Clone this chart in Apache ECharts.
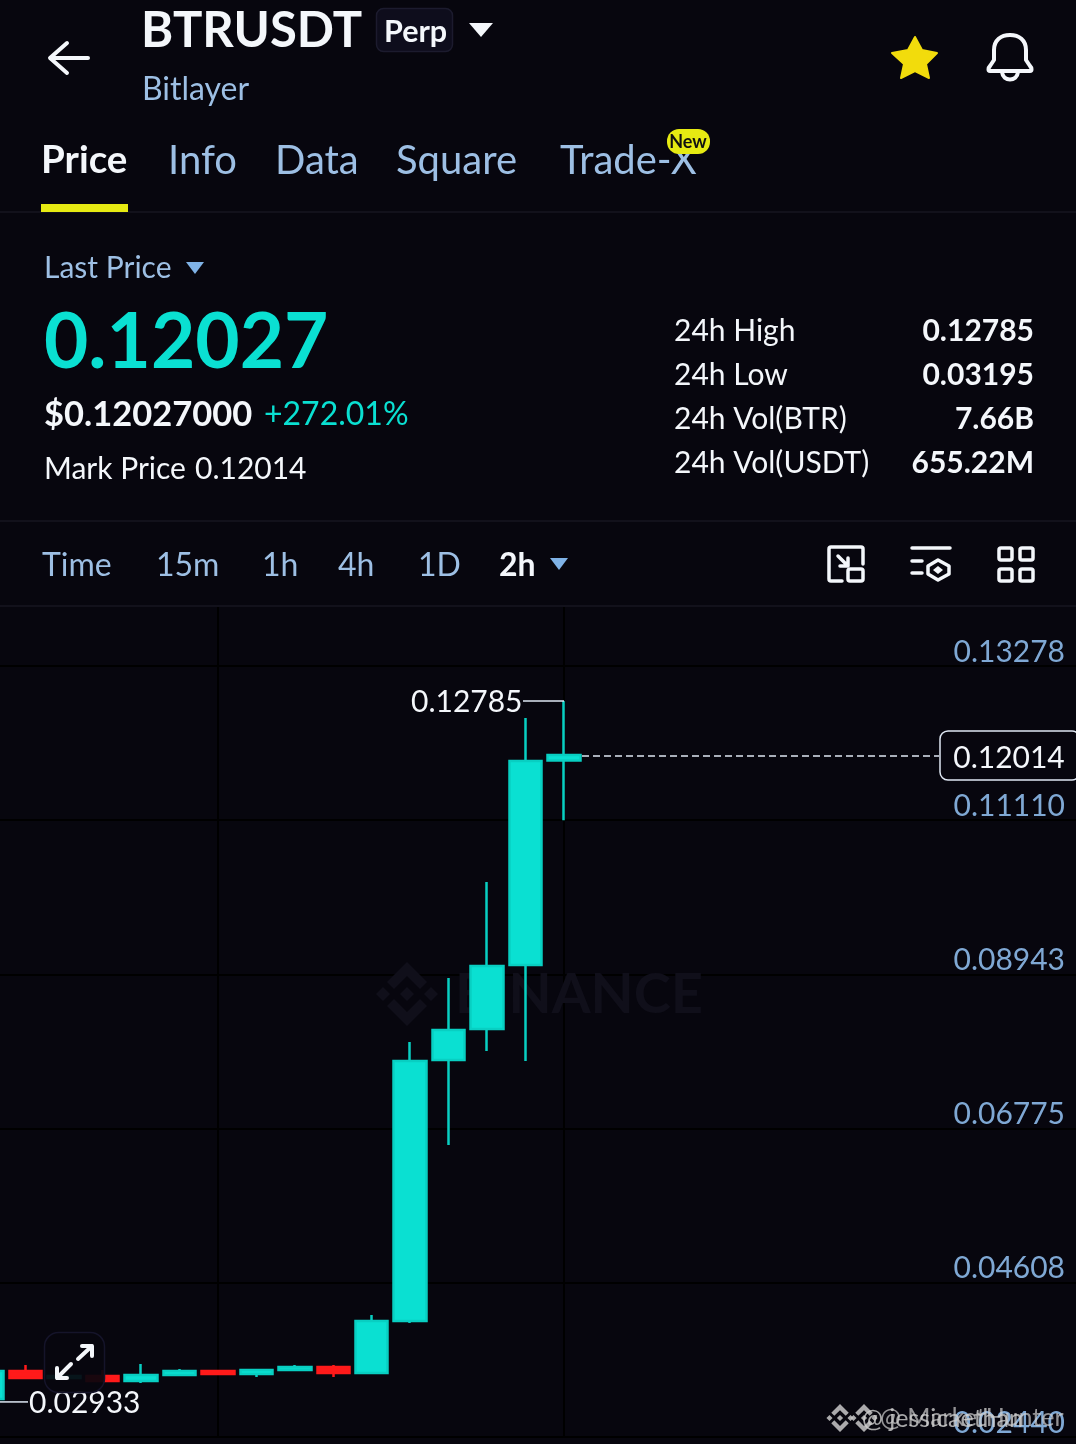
<!DOCTYPE html>
<html><head><meta charset="utf-8">
<style>html,body{margin:0;padding:0;background:#07060e}#c{width:1076px;height:1444px}</style>
<script src="https://cdn.jsdelivr.net/npm/echarts@6/dist/echarts.min.js"></script>
</head><body><div id="c"></div>
<script>
var candleSlots = ['T-15','T-14','T-13','T-12','T-11','T-10','T-9','T-8','T-7','T-6','T-5','T-4','T-3','T-2','T-1','T0'];
var futureSlots = ['F1','F2','F3','F4','F5','F6','F7','F8','F9','F10','F11','F12','F13'];
var opens  = [0.02974,0.03368,0.03270,0.03298,0.03228,0.03312,0.03368,0.03326,0.03382,0.03424,0.03340,0.04071,0.07740,0.08175,0.09075,0.11950];
var closes = [0.03368,0.03270,0.03298,0.03228,0.03312,0.03368,0.03326,0.03382,0.03424,0.03340,0.04071,0.07725,0.08161,0.09061,0.11943,0.12027];
var lows   = [0.02933,0.03256,0.03250,0.03213,0.03199,0.03298,0.03312,0.03284,0.03368,0.03284,0.03326,0.04043,0.06545,0.07866,0.07725,0.11110];
var highs  = [0.03400,0.03452,0.03310,0.03382,0.03466,0.03396,0.03382,0.03396,0.03452,0.03452,0.04155,0.07993,0.08892,0.10242,0.12547,0.12785];
var yTicks = [0.02440,0.04608,0.06775,0.08943,0.11110,0.13278];
var yMin = 0.02440, yMax = 0.14107;
var markPrice = 0.12014, dayHigh = 0.12785, dayLow = 0.02933;
var gridMarks = ['T-9','T0'];
var tabs = ['Price','Info','Data','Square','Trade-X'];
var intervals = ['Time','15m','1h','4h','1D','2h'];
var statNames = ['24h High','24h Low','24h Vol(BTR)','24h Vol(USDT)'];
var statValues = ['0.12785','0.03195','7.66B','655.22M'];

var UP='#0ae0d2', UPB='#08cfc2', DOWN='#ff1a1a', BG='#07060e', FF='Lato, "Noto Sans", sans-serif';
var BLUE='#9dbfe4', AX='#7fa8d4', W='#f4f7fb';
var chart = echarts.init(document.getElementById('c'), null, {width:1076,height:1444});
var ohlc = opens.map(function(o,i){return [o,closes[i],lows[i],highs[i]];});
chart.setOption({
  animation:false, backgroundColor:BG,
  grid:{left:-32.1,right:-7.2,top:607,bottom:7,containLabel:false,outerBoundsMode:'none'},
  xAxis:{type:'category',data:candleSlots.concat(futureSlots),axisLine:{show:false},axisTick:{show:false},axisLabel:{show:false},splitLine:{show:false}},
  yAxis:{type:'value',position:'right',min:yMin,max:yMax,scale:true,
    axisLine:{show:false},
    axisTick:{show:false,customValues:yTicks},
    axisLabel:{inside:true,margin:18.2,customValues:yTicks,showMinLabel:true,showMaxLabel:true,
      color:AX,fontSize:30,fontFamily:FF,verticalAlign:'bottom',padding:[0,0,0,0],lineHeight:28,
      formatter:function(v){return v.toFixed(5);}},
    splitLine:{show:true,lineStyle:{color:'#000000',width:2}}},
  series:[{type:'candlestick',data:ohlc,barWidth:33,
    itemStyle:{color:UP,color0:DOWN,borderColor:UPB,borderColor0:DOWN,borderWidth:2.5},
    markLine:{silent:true,symbol:'none',label:{show:false},z:1,
      lineStyle:{color:'#000000',width:2,type:'solid'},
      data:gridMarks.map(function(c){return {xAxis:c};})}
  }]
});
var py=function(v){return chart.convertToPixel({yAxisIndex:0},v);};
var px=function(c){return chart.convertToPixel({xAxisIndex:0},c);};
var pn=0;
function T(s,x,y,size,color,o){o=o||{};return {type:'text',silent:true,z:o.z||20,style:{text:s,x:x,y:y,fontSize:size,fontFamily:FF,fontWeight:o.w||400,fill:color,align:o.a||'left',verticalAlign:'middle',opacity:o.op==null?1:o.op}};}
function P(d,o){var name='svgp'+(pn++);echarts.graphic.registerShape(name,echarts.graphic.extendPath(d,{}));return {type:name,silent:true,z:o.z||20,style:{fill:o.fill||'none',stroke:o.stroke||'none',lineWidth:o.lw||0,lineCap:'round',lineJoin:'round',opacity:o.op==null?1:o.op}};}
function R(x,y,w,h,r,fill,stroke,lw,z){return {type:'rect',silent:true,z:z||10,shape:{x:x,y:y,width:w,height:h,r:r},style:{fill:fill,stroke:stroke||'none',lineWidth:lw||0}};}
function L(x1,y1,x2,y2,c,lw,dash,z){return {type:'line',silent:true,z:z||15,shape:{x1:x1,y1:y1,x2:x2,y2:y2},style:{stroke:c,lineWidth:lw,lineDash:dash||null}};}
function logoPath(c,m,R){var f=function(a,b){return (c+a*R/32)+' '+(m+b*R/32);};
  var dia=function(a,b,r){return 'M'+f(a,b-r)+'L'+f(a+r,b)+'L'+f(a,b+r)+'L'+f(a-r,b)+'Z';};
  return 'M'+f(0,-32)+'L'+f(20,-12)+'L'+f(13,-5)+'L'+f(0,-18)+'L'+f(-13,-5)+'L'+f(-20,-12)+'Z'+
         'M'+f(0,32)+'L'+f(20,12)+'L'+f(13,5)+'L'+f(0,18)+'L'+f(-13,5)+'L'+f(-20,12)+'Z'+
         dia(0,0,7)+dia(-24,0,7)+dia(24,0,7);}
var g=[];
g.push(R(0,0,1076,606,0,BG,null,0,5));
[212,521,606].forEach(function(a){g.push(L(0,a,1076,a,'#12111b',2,null,6));});
g.push(P('M88 58H51M67 43L50 58L67 73',{stroke:W,lw:4}));
g.push(T('BTRUSDT',141,31,49,W,{w:700}));
g.push(R(376.5,8.5,76,43,7,'#0e0d1c','#1c1b2e',1.5,12));
g.push(T('Perp',384,32,30.5,W,{w:700}));
g.push(P('M469 23H493L481 37Z',{fill:W}));
g.push(T('Bitlayer',142,90,32,BLUE));
var tabX=[41,168,275,396,560];
tabs.forEach(function(t,i){g.push(T(t,tabX[i],161,i==0?38.5:40,i==0?W:BLUE,{w:i==0?700:400}));});
g.push(R(41,204,87,8,0,'#e6ea12',null,0,12));
g.push(R(667,129,43,25,12,'#e6ea12',null,0,25));
g.push(T('New',688,142,18,'#111111',{a:'center',w:700,z:26}));
g.push(P('M915 37L922 50L937 53L926 64L929 78L915 71L901 78L904 64L892 53L908 50Z',{fill:'#f2dc0c',stroke:'#f2dc0c',lw:2}));
g.push(P('M990 71H1030C1032 71 1032 68 1030 66L1026 60V50C1026 40 1019 35 1010 35C1001 35 994 40 994 50V60L990 66C988 68 988 71 990 71ZM1002 72C1003 82 1017 82 1018 72',{stroke:W,lw:4}));
g.push(T('Last Price',44,268,30,BLUE));
g.push(P('M186 262H204L195 274Z',{fill:'#7fb2e6'}));
g.push(T('0.12027',44,343,76.5,UP,{w:700}));
g.push(T('$0.12027000',44,415,34.5,W,{w:700}));
g.push(T('+272.01%',264,415,32,UP));
g.push(T('Mark Price',44,469,30,W));
g.push(T('0.12014',195,469,30,W));
statNames.forEach(function(s,i){var y=331+i*44;g.push(T(s,674,y,30,W));g.push(T(statValues[i],1034,y,30,W,{a:'right',w:700}));});
var ivX=[42,156,262,338,418,499];
intervals.forEach(function(t,i){g.push(T(t,ivX[i],566,32,i==5?W:BLUE,{w:i==5?700:400}));});
g.push(P('M550 558H568L559 570Z',{fill:'#7fb2e6'}));
g.push(P('M842 581H831C829.5 581 829 580 829 579V549C829 548 829.5 547 831 547H861C862.5 547 863 548 863 549V564M838 556L848 566M848 558V566H840',{stroke:W,lw:3.5}));
g.push(R(848,569,15,12,2,'none',W,3.5,20));
g.push(P('M912 548H950M912 561H922M912 573H922M938 560L949 566V574L938 580L928 574V566Z',{stroke:W,lw:3.5}));
g.push(P('M938 566L943 570L938 574L933 570Z',{fill:W}));
[[999,548],[1020,548],[999,569],[1020,569]].forEach(function(a){g.push(R(a[0],a[1],13,12,2,'none',W,3.5,20));});
g.push(P(logoPath(407,994,32),{fill:'#100f1a',z:2}));
g.push(T('BINANCE',455,995,56,'#100f1a',{w:700,z:2}));
var ym=py(markPrice), yh=py(dayHigh), yl=py(dayLow), xl=px('T0');
g.push(L(xl+18,ym,939,ym,'#dfe8f4',1.5,[7,4],16));
g.push(R(940,731,140,49,8,BG,'#dfe8f4',1.5,17));
g.push(T(markPrice.toFixed(5),1009,758,30,W,{a:'center',z:18}));
g.push(L(523,yh,xl,yh,'#dfe8f4',1.5,null,16));
g.push(T(dayHigh.toFixed(5),411,702,30,W,{z:18}));
g.push(L(0,yl,28,yl,'#dfe8f4',1.5,null,16));
g.push(T(dayLow.toFixed(5),29,1403,30,W,{z:18}));
g.push(R(44.5,1332.5,60,60,14,'rgba(7,6,14,0.93)','#15142a',1.5,18));
g.push(P('M78 1359L92 1346M82 1346H92V1356M71 1364L57 1378M57 1368V1378H67',{stroke:W,lw:4,z:19}));
g.push(P(logoPath(840,1418,14),{fill:'#c8c8c8',z:21,op:0.85}));
g.push(P(logoPath(864,1418,14),{fill:'#c8c8c8',z:21,op:0.85}));
g.push(T('@ jessicaethan',862,1419,25,'#d0d0d0',{z:23,op:0.8}));
g.push(T('@ MarketHunter',880,1418,25,'#d0d0d0',{z:23,op:0.7}));
chart.setOption({graphic:{elements:g}});
</script></body></html>
